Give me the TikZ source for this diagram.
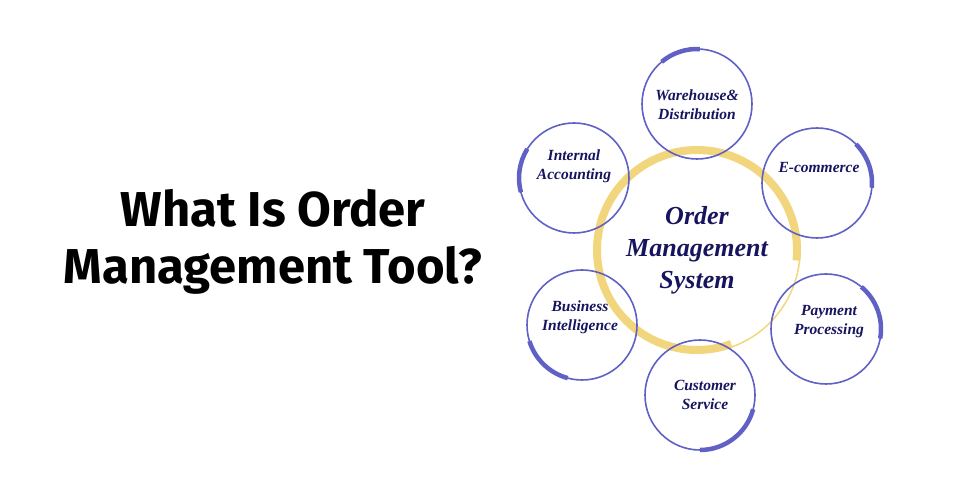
\documentclass[tikz,border=0pt]{standalone}
\usepackage{fontspec}
\setmainfont{Liberation Serif}
\newfontfamily\titlefont{Fira Sans}
\usetikzlibrary{positioning}
\definecolor{ringblue}{HTML}{5F61C4}
\definecolor{ringyellow}{HTML}{F2D67E}
\definecolor{labelnavy}{HTML}{16145E}
\tikzstyle{part} = [circle, draw=ringblue, line width=1.6pt, minimum size=110pt, inner sep=0pt, outer sep=0pt]
\tikzstyle{partlabel} = [text=labelnavy, font=\fontsize{15.5}{19}\selectfont\bfseries\itshape, align=center]
\tikzstyle{hub} = [text=labelnavy, font=\fontsize{26}{32}\selectfont\bfseries\itshape, align=center]
\tikzstyle{thickarc} = [draw=ringblue, line width=4.5pt]
\tikzstyle{title} = [font=\titlefont\fontsize{49}{57}\selectfont\bfseries, align=center]

\begin{document}
\begin{tikzpicture}[x=1pt,y=1pt]
            \useasboundingbox (0,0) rectangle (960,500);
            \node [title] (question) at (273,258) {What Is Order\\Management Tool?};

            \node [hub] (oms) at (697,250) {Order\\Management\\System};
            \draw[ringyellow, line width=8pt] (oms.center) ++(-6:100) arc[start angle=-6, end angle=290, radius=100];
            \draw[ringyellow, line width=1.5pt] (oms.center) ++(286:103) arc[start angle=286, end angle=368, radius=103];

            \node [part] (ware) at (697,396) {};
            \node [part] (ecom) at (817,317) {};
            \node [part] (acct) at (574,322) {};
            \node [part] (bi) at (582,175) {};
            \node [part] (cust) at (700,105) {};
            \node [part] (pay) at (826,171) {};

            \node [partlabel, yshift=-1pt] (ware-t) at (ware) {Warehouse\&\\Distribution};
            \node [partlabel, xshift=2pt, yshift=15pt] (ecom-t) at (ecom) {E-commerce};
            \node [partlabel, yshift=12pt] (acct-t) at (acct) {Internal\\Accounting};
            \node [partlabel, xshift=-2pt, yshift=8pt] (bi-t) at (bi) {Business\\Intelligence};
            \node [partlabel, xshift=5pt] (cust-t) at (cust) {Customer\\Service};
            \node [partlabel, xshift=3pt, yshift=7pt] (pay-t) at (pay) {Payment\\Processing};

            \draw[thickarc] (ware.87) arc[start angle=87, end angle=130, radius=55];
            \draw[thickarc] (ecom.-5) arc[start angle=-5, end angle=45, radius=55];
            \draw[thickarc] (acct.148) arc[start angle=148, end angle=195, radius=55];
            \draw[thickarc] (bi.197) arc[start angle=197, end angle=255, radius=55];
            \draw[thickarc] (cust.270) arc[start angle=270, end angle=345, radius=55];
            \draw[thickarc] (pay.-10) arc[start angle=-10, end angle=50, radius=55];
        \end{tikzpicture}
\end{document}
